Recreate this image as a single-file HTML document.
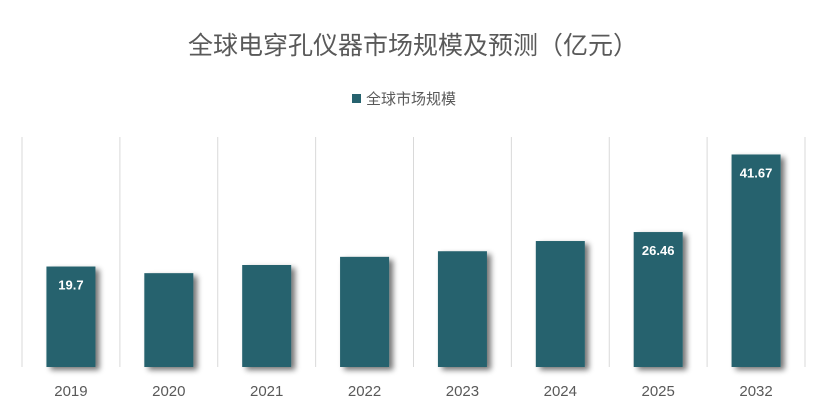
<!DOCTYPE html>
<html><head><meta charset="utf-8"><style>
body{margin:0;background:#fff;width:827px;height:413px;overflow:hidden;font-family:"Liberation Sans","Noto Sans CJK SC",sans-serif}
</style></head><body>
<svg id="c" width="827" height="413">
<defs><filter id="sh" x="-30%" y="-10%" width="160%" height="130%"><feGaussianBlur in="SourceAlpha" stdDeviation="3"/><feOffset dx="4" dy="3"/><feComponentTransfer><feFuncA type="linear" slope="0.55"/></feComponentTransfer><feMerge><feMergeNode/><feMergeNode in="SourceGraphic"/></feMerge></filter></defs>
<text x="413" y="54" text-anchor="middle" font-size="25" fill="#595959">全球电穿孔仪器市场规模及预测（亿元）</text>
<g>
<rect x="352" y="94" width="9" height="9" fill="#26626E"/>
<text x="366" y="104" font-size="15" fill="#595959">全球市场规模</text>
</g>
<g id="grid"></g><g id="bars"></g><g id="labels"></g>
</svg>
<script>
const categories=["2019","2020","2021","2022","2023","2024","2025","2032"];
const values=[19.7,18.4,20.0,21.6,22.7,24.7,26.46,41.67];
const printed=["19.7","","","","","","26.46","41.67"];
const svg=document.getElementById('c'),NS="http://www.w3.org/2000/svg";
const x0=22,x1=805,base=367,scale=5.1,bw=(x1-x0)/categories.length,barW=49;
const y=v=>base-v*scale;
function mk(t,a,p){const e=document.createElementNS(NS,t);for(const k in a)e.setAttribute(k,a[k]);document.getElementById(p).appendChild(e);return e;}
for(let i=0;i<=categories.length;i++){
 const g=mk('line',{x1:x0+i*bw,x2:x0+i*bw,y1:137,y2:base,stroke:"#d9d9d9","stroke-width":1},'grid');
 
 
}
categories.forEach((c,i)=>{
 const cx=x0+(i+0.5)*bw;
 const r=mk('rect',{x:cx-barW/2,y:y(values[i]),width:barW,height:values[i]*scale,fill:"#26626E",filter:"url(#sh)"},'bars');
 
 
 const t=mk('text',{x:cx,y:396,"text-anchor":"middle","font-size":15,fill:"#595959"},'labels');t.textContent=c;
 
 
 if(printed[i]){
  const v=mk('text',{x:cx,y:y(values[i])+23,"text-anchor":"middle","font-size":13,"font-weight":"bold",fill:"#fff"},'labels');v.textContent=printed[i];
  
  
 }
});
</script>
</body></html>
